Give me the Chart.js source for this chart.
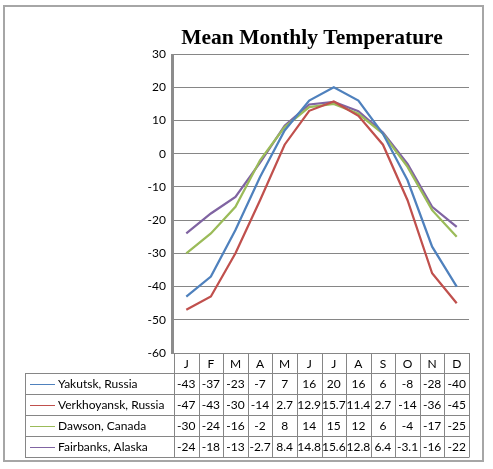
<!DOCTYPE html>
<html>
<head>
<meta charset="utf-8">
<script src="https://cdn.jsdelivr.net/npm/chart.js@4.4.1/dist/chart.umd.min.js"></script>
<style>
  html, body { margin: 0; padding: 0; background: #fff; }
</style>
</head>
<body>
<canvas id="tempChart" width="493" height="469"></canvas>
<script>
  // chart data
  const months = ['J', 'F', 'M', 'A', 'M', 'J', 'J', 'A', 'S', 'O', 'N', 'D'];
  const yakutsk = [-43, -37, -23, -7, 7, 16, 20, 16, 6, -8, -28, -40];
  const verkhoyansk = [-47, -43, -30, -14, 2.7, 12.9, 15.7, 11.4, 2.7, -14, -36, -45];
  const dawson = [-30, -24, -16, -2, 8, 14, 15, 12, 6, -4, -17, -25];
  const fairbanks = [-24, -18, -13, -2.7, 8.4, 14.8, 15.6, 12.8, 6.4, -3.1, -16, -22];
  const seriesNames = ['Yakutsk, Russia', 'Verkhoyansk, Russia', 'Dawson, Canada', 'Fairbanks, Alaska'];
  const seriesData = [yakutsk, verkhoyansk, dawson, fairbanks];
  const seriesColors = ['#4f81bd', '#c0504d', '#9bbb59', '#8064a2'];
  const yMin = -60, yMax = 30, yStep = 10;
  const chartTitle = 'Mean Monthly Temperature';

  const labelFont = '12px Lato, "Open Sans", sans-serif';
  const gridGray = '#868686';

  // thick value axis bar on the left of the plot
  const axisBarPlugin = {
    id: 'axisBar',
    afterDatasetsDraw(chart) {
      const a = chart.chartArea;
      const c = chart.ctx;
      c.save();
      c.fillStyle = '#8c8c8c';
      c.fillRect(a.left - 3, a.top, 3, a.bottom - a.top + 1);
      c.restore();
    }
  };

  // title, data table and frame drawn after the lines
  const tablePlugin = {
    id: 'dataTable',
    afterDraw(chart) {
      const ctx = chart.ctx;
      const xs = chart.scales.x;
      const area = chart.chartArea;
      const step = xs.getPixelForValue(1) - xs.getPixelForValue(0);
      const top = area.bottom;
      const headH = 20, rowH = 21;
      const tableLeft = 25;
      const bottom = top + headH + rowH * seriesNames.length;

      ctx.save();
      // title
      ctx.fillStyle = '#000';
      ctx.font = 'bold 21.5px "Liberation Serif", "Times New Roman", serif';
      ctx.textAlign = 'center';
      ctx.textBaseline = 'alphabetic';
      ctx.fillText(chartTitle, 312, 44);

      // grid of the table
      ctx.strokeStyle = gridGray;
      ctx.lineWidth = 1;
      ctx.beginPath();
      for (let i = 0; i <= months.length; i++) {
        const x = Math.round(area.left + i * step) + 0.5;
        ctx.moveTo(x, top);
        ctx.lineTo(x, bottom);
      }
      for (let k = 0; k <= seriesNames.length; k++) {
        const y = Math.round(top + headH + k * rowH) + 0.5;
        ctx.moveTo(tableLeft, y);
        ctx.lineTo(Math.round(area.right) + 0.5, y);
      }
      ctx.moveTo(tableLeft + 0.5, top + headH);
      ctx.lineTo(tableLeft + 0.5, bottom);
      ctx.stroke();

      // header
      ctx.fillStyle = '#000';
      ctx.font = labelFont;
      ctx.textAlign = 'center';
      ctx.textBaseline = 'middle';
      months.forEach((m, i) => {
        ctx.fillText(m, xs.getPixelForValue(i), top + headH / 2 + 1);
      });

      // rows
      seriesNames.forEach((name, k) => {
        const cy = top + headH + k * rowH + rowH / 2 + 1;
        ctx.strokeStyle = seriesColors[k];
        ctx.beginPath();
        ctx.moveTo(30, Math.round(cy) - 0.5);
        ctx.lineTo(55, Math.round(cy) - 0.5);
        ctx.stroke();
        ctx.textAlign = 'left';
        ctx.fillText(name, 58, cy);
        ctx.textAlign = 'center';
        seriesData[k].forEach((v, i) => {
          ctx.fillText(String(v), xs.getPixelForValue(i), cy);
        });
      });

      // outer frame
      ctx.strokeStyle = '#a6a6a6';
      ctx.lineWidth = 2;
      ctx.strokeRect(4, 6, 479, 455);
      ctx.restore();
    }
  };

  const ctx = document.getElementById('tempChart');

  new Chart(ctx, {
    type: 'line',
    data: {
      labels: months,
      datasets: seriesNames.map((name, k) => ({
        label: name,
        data: seriesData[k],
        borderColor: seriesColors[k],
        borderWidth: 2.25,
        pointRadius: 0,
        tension: 0,
        fill: false
      }))
    },
    options: {
      responsive: false,
      animation: false,
      layout: {
        padding: { left: 0, top: 54, right: 24, bottom: 116 }
      },
      plugins: {
        legend: { display: false },
        title: { display: false },
        tooltip: { enabled: false }
      },
      scales: {
        x: {
          display: false,
          offset: true
        },
        y: {
          min: yMin,
          max: yMax,
          afterFit(scale) { scale.width = 174; },
          ticks: {
            stepSize: yStep,
            color: '#000',
            padding: 8,
            font: { family: 'Lato, "Open Sans", sans-serif', size: 12 }
          },
          grid: {
            color: gridGray,
            lineWidth: 1,
            drawTicks: false
          },
          border: {
            display: false
          }
        }
      }
    },
    plugins: [axisBarPlugin, tablePlugin]
  });
</script>
</body>
</html>
